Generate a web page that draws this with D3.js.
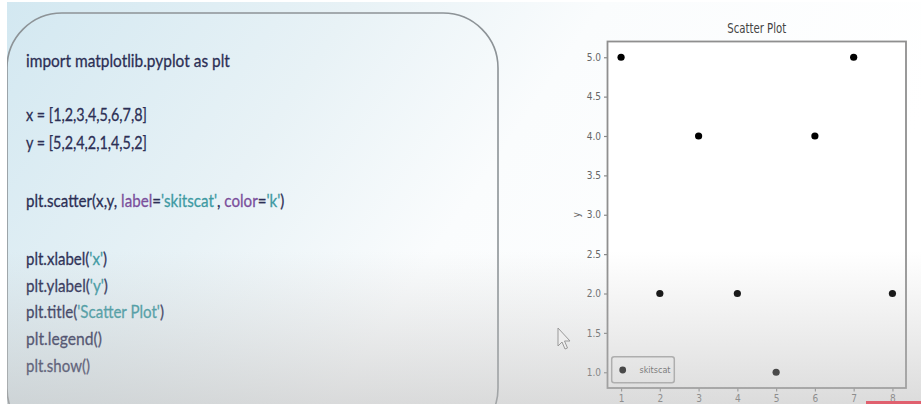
<!DOCTYPE html>
<html><head><meta charset="utf-8">
<script src="https://cdn.jsdelivr.net/npm/d3@7"></script>
<style>html,body{margin:0;padding:0;background:#fff;overflow:hidden}</style>
</head><body>
<svg id="c" width="921" height="416"></svg>
<script>
// ---- data ----
const xs = [1,2,3,4,5,6,7,8];
const ys = [5,2,4,2,1,4,5,2];
const yTicks = [1.0,1.5,2.0,2.5,3.0,3.5,4.0,4.5,5.0];
const xTicks = [1,2,3,4,5,6,7,8];
const seriesLabel = "skitscat";
const chartTitle = "Scatter Plot";
const codeLines = [
  [["import matplotlib.pyplot as plt","t"]],
  [["x = [1,2,3,4,5,6,7,8]","t"]],
  [["y = [5,2,4,2,1,4,5,2]","t"]],
  [["plt.scatter(x,y, ","t"],["label","p"],["=","t"],["'skitscat'","s"],[", ","t"],["color","p"],["=","t"],["'k'","s"],[")","t"]],
  [["plt.xlabel(","t"],["'x'","s"],[")","t"]],
  [["plt.ylabel(","t"],["'y'","s"],[")","t"]],
  [["plt.title(","t"],["'Scatter Plot'","s"],[")","t"]],
  [["plt.legend()","t"]],
  [["plt.show()","t"]]
];
const codeBase = [67,121,149,207,265,292,318,345,372];
const codeWidth = [204,121,121,257,81,82,138,76,64];

const svg = d3.select("#c");
const defs = svg.append("defs");
const gH = defs.append("linearGradient").attr("id","gh").attr("x1","0").attr("x2","1").attr("y1","0").attr("y2","0.3");
gH.append("stop").attr("offset","0").attr("stop-color","#d3e8f1");
gH.append("stop").attr("offset","0.35").attr("stop-color","#e8f2f6");
gH.append("stop").attr("offset","0.6").attr("stop-color","#fafcfd");
gH.append("stop").attr("offset","1").attr("stop-color","#ffffff");
const gV = defs.append("linearGradient").attr("id","gv").attr("x1","0").attr("x2","0").attr("y1","0").attr("y2","1");
gV.append("stop").attr("offset","0").attr("stop-color","#bdbdbd").attr("stop-opacity","0");
gV.append("stop").attr("offset","0.62").attr("stop-color","#bdbdbd").attr("stop-opacity","0");
gV.append("stop").attr("offset","1").attr("stop-color","#b8b8b8").attr("stop-opacity","0.5");

svg.append("rect").attr("x",7).attr("y",2).attr("width",914).attr("height",402).attr("fill","url(#gh)");

const W = 921, H = 416;
const x = d3.scaleLinear().domain([0.65,8.35]).range([607.5,906]);
const y = d3.scaleLinear().domain([0.8,5.2]).range([388,41.5]);

svg.append("rect").attr("x",x(0.65)).attr("y",y(5.2)).attr("width",x(8.35)-x(0.65)).attr("height",y(0.8)-y(5.2)).attr("fill","#fff");

// code panel
svg.append("rect").attr("x",7).attr("y",13).attr("width",491).attr("height",430).attr("rx",55).attr("ry",55)
  .attr("fill","none").attr("stroke","#8d9397").attr("stroke-width",1.6);

const colors = {t:"#2c2f55", p:"#7b4f9c", s:"#3f9aa3"};
const codeFamily = "Lato, 'Open Sans', sans-serif", codeSize = 18;
codeLines.forEach((segs,i)=>{
  const g = svg.append("g");
  const t = g.append("text").attr("x",0).attr("y",0)
    .attr("font-family",codeFamily).attr("font-size",codeSize)
    .attr("stroke-width",0.3).style("white-space","pre");
  segs.forEach(s=>t.append("tspan").attr("fill",colors[s[1]]).attr("stroke",colors[s[1]]).text(s[0]));
  const nat = t.node().getComputedTextLength();
  const k = codeWidth[i]/nat;
  g.attr("transform",`translate(26,${codeBase[i]}) scale(${k},1)`);
});

// axes
const tickFont = "'DejaVu Sans Condensed','DejaVu Sans',sans-serif";
const gy = svg.append("g").attr("transform",`translate(${x(0.65)},0)`)
  .call(d3.axisLeft(y).tickValues(yTicks).tickFormat(d3.format(".1f")).tickSize(3.5).tickPadding(3));
const gx = svg.append("g").attr("transform",`translate(0,${y(0.8)})`)
  .call(d3.axisBottom(x).tickValues(xTicks).tickFormat(d3.format("d")).tickSize(3.5).tickPadding(3));
[gx,gy].forEach(g=>{
  g.select(".domain").remove();
  g.selectAll("line").attr("stroke","#888").attr("stroke-width",1.2);
  g.selectAll("text").attr("fill","#666").attr("font-family",tickFont).attr("font-size",10);
});
svg.append("text").attr("transform",`translate(576,${y(3)}) rotate(-90)`).attr("text-anchor","middle").attr("dy","0.35em")
  .attr("fill","#666").attr("font-family",tickFont).attr("font-size",10).text("y");

// frame
svg.append("rect").attr("x",x(0.65)).attr("y",y(5.2)).attr("width",x(8.35)-x(0.65)).attr("height",y(0.8)-y(5.2))
  .attr("fill","none").attr("stroke","#8f8f8f").attr("stroke-width",1.8);

// title
svg.append("text").attr("x",(x(0.65)+x(8.35))/2).attr("y",33).attr("text-anchor","middle")
  .attr("fill","#444").attr("font-family",tickFont).attr("font-size",14)
  .attr("textLength",59).attr("lengthAdjust","spacingAndGlyphs").text(chartTitle);

// points
svg.append("g").selectAll("circle").data(xs.map((d,i)=>[d,ys[i]])).join("circle")
  .attr("cx",d=>x(d[0])).attr("cy",d=>y(d[1])).attr("r",3.6).attr("fill","#000");

// legend
const lg = svg.append("g");
lg.append("rect").attr("x",611.7).attr("y",356.7).attr("width",62.6).attr("height",26).attr("rx",2.5)
  .attr("fill","#fff").attr("stroke","#a8a8a8").attr("stroke-width",1.5);
lg.append("circle").attr("cx",622.7).attr("cy",370).attr("r",3.4).attr("fill","#000");
lg.append("text").attr("x",639.5).attr("y",373).attr("fill","#555")
  .attr("font-family",tickFont).attr("font-size",9.5)
  .attr("textLength",31).attr("lengthAdjust","spacingAndGlyphs").text(seriesLabel);

// bottom grey fade (video overlay)
svg.append("rect").attr("x",7).attr("y",2).attr("width",914).attr("height",402).attr("fill","url(#gv)").attr("pointer-events","none");

// cursor
svg.append("path").attr("d","M558,328 L558,346 L562,342 L565,349 L567.5,348 L564.5,341 L570,341 Z")
  .attr("fill","#eee").attr("stroke","#999").attr("stroke-width",1);

// red marker at bottom right
svg.append("rect").attr("x",866).attr("y",401).attr("width",55).attr("height",3).attr("fill","#e0606e");

// white area outside screenshot
svg.append("rect").attr("x",0).attr("y",404).attr("width",W).attr("height",H-404).attr("fill","#fff");
svg.append("rect").attr("x",0).attr("y",0).attr("width",7).attr("height",H).attr("fill","#fff");
</script>
</body></html>
